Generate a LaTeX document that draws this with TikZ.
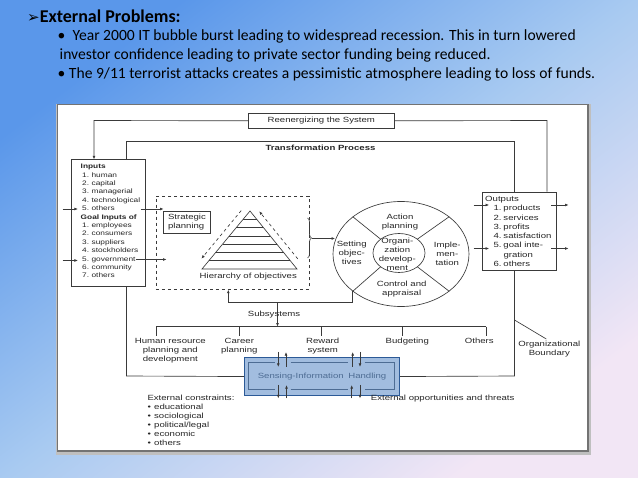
\documentclass[tikz,border=0pt]{standalone}
\usepackage{fontspec}
\setmainfont{Carlito}
\newfontfamily\figfont[FakeStretch=1.28]{Liberation Sans}
\newfontfamily\dingfont{DejaVu Sans}
\usetikzlibrary{arrows.meta,positioning,shapes.geometric,calc,decorations.pathreplacing}
\definecolor{slidetop}{HTML}{5A97EA}
\definecolor{slidemid}{HTML}{A8CAF1}
\definecolor{slidebot}{HTML}{F2E6F5}
\definecolor{senseblue}{HTML}{A2BDDF}
\definecolor{senseedge}{HTML}{2C5A97}
\definecolor{sensetext}{HTML}{4D6C93}
\definecolor{figink}{HTML}{3A3A3A}

\begin{document}
\begin{tikzpicture}[x=1pt,y=-1pt,
    ln/.style={line width=0.65pt,draw=figink},
    arr/.style={ln,-{Latex[length=3.6pt,width=2.8pt]}},
    figbox/.style={ln,rectangle,inner sep=0pt,anchor=north west},
    lbl/.style={font=\figfont\fontsize{7.5}{9}\selectfont,text=black!85,inner sep=0pt,align=center},
    tinylbl/.style={lbl,font=\figfont\fontsize{6.5}{8.4}\selectfont},
    tinybold/.style={lbl,font=\figfont\bfseries\fontsize{6.5}{8.4}\selectfont},
    slidetxt/.style={anchor=base west,inner sep=0pt,font=\fontsize{15.6}{19}\selectfont}]
  \useasboundingbox (0,0) rectangle (638,478);
  % slide background and text
  \shade[top color=slidetop,bottom color=slidebot,middle color=slidemid,shading angle=37] (0,0) rectangle (638,478);
  \node[anchor=base west,inner sep=0pt,font=\fontsize{18}{21}\selectfont\bfseries] (title) at (27,22.3) {{\dingfont\fontsize{15}{15}\selectfont ➢}External Problems:};
  \node[slidetxt] (pointa) at (57.5,40.1) {•\ \ Year 2000 IT bubble burst leading to widespread recession. This in turn lowered};
  \node[slidetxt] (pointb) at (59.5,59.4) {investor confidence leading to private sector funding being reduced.};
  \node[slidetxt] (pointc) at (57.5,78.7) {•\ The 9/11 terrorist attacks creates a pessimistic atmosphere leading to loss of funds.};
  % white panel with shadow
  \fill[black!25] (56,104) rectangle (591,455);
  \fill[black!55] (56.5,104.5) rectangle (589,452.5);
  \fill[white] (57.5,105.5) rectangle (586.5,450);

  % boxes
  \node[figbox,lbl,minimum width=146,minimum height=15] (reen) at (248,113) {Reenergizing the System};
  \node[figbox,minimum width=73.5,minimum height=126.5] (inputs) at (71,159.5) {};
  \node[figbox,minimum width=74.3,minimum height=78.3] (outputs) at (481.7,191.7) {};
  \node[figbox,dashed,minimum width=153,minimum height=93.3] (plan) at (155.5,195.7) {};
  \node[figbox,lbl,align=left,minimum width=46.7,minimum height=22.3] (strat) at (163.3,211) {Strategic\\planning};
  \node[ln,ellipse,minimum width=136,minimum height=105,inner sep=0pt] (wheel) at (401,254) {};
  \node[ln,ellipse,minimum width=52,minimum height=39,inner sep=0pt] (core) at (399,253) {};
  \node[figbox,draw=senseedge,line width=1.1pt,fill=senseblue,minimum width=155,minimum height=38] (sense) at (244,357) {};

  % transformation process frame
  \coordinate (tpnw) at (126.5,141.7);
  \coordinate (tpne) at (514.5,141.7);
  \coordinate (tpsw) at (126.5,376);
  \coordinate (tpse) at (514.5,376);
  \draw[ln] (tpnw |- inputs.north) -- (tpnw) -- (tpne) -- (tpne |- outputs.north);
  \draw[ln] (tpsw |- inputs.south) -- (tpsw) -- (sense.west);
  \draw[ln] (tpse |- outputs.south) -- (tpse) -- (sense.east);
  \node[lbl,font=\figfont\bfseries\fontsize{7.5}{9}\selectfont] (tptitle) at (320.5,147.7) {Transformation Process};

  % reenergizing loop
  \coordinate (loopw) at (94,120.5);
  \coordinate (loope) at (547,120.5);
  \draw[arr] (reen.west) -- (loopw) -- (loopw |- inputs.north);
  \draw[ln] (reen.east) -- (loope) -- (loope |- outputs.north);

  % inputs
  \node[tinybold,anchor=base west] (inhead) at (80.5,168.4) {Inputs};
  \foreach \lab [count=\i] in {human,capital,managerial,technological,others}
    \node[tinylbl,anchor=base west] (in\i) at (82,168.7+8.4*\i) {\makebox[9.4pt][l]{\i.}\lab};
  \node[tinybold,anchor=base west] (goalhead) at (80.5,219.1) {Goal Inputs of};
  \foreach \lab [count=\i] in {employees,consumers,suppliers,stockholders,government,community,others}
    \node[tinylbl,anchor=base west] (goal\i) at (82,219.1+8.4*\i) {\makebox[9.4pt][l]{\i.}\lab};
  \draw[arr] ($(inputs.north west)+(-8.4,49.5)$) -- ++(15.4,0);
  \draw[arr] ($(inputs.north west)+(-8.4,101)$) -- ++(15.4,0);
  \draw[arr] ($(inputs.north east)+(-4.5,49.5)$) -- ++(23,0);
  \draw[arr] ($(inputs.north east)+(-9.5,100)$) -- ++(31,0);

  % outputs
  \node[lbl,anchor=base west] (outhead) at (485,201.5) {Outputs};
  \foreach \nr/\lab [count=\k from 0] in {1./products,2./services,3./profits,4./satisfaction,5./goal inte-,/gration,6./others}
    \node[lbl,anchor=base west] (out\k) at (493.3,210.8+9.3*\k) {\makebox[10pt][l]{\nr}\lab};
  \foreach \dy in {13.3,56.8}{
    \draw[arr] ($(outputs.north west)+(-8,\dy)$) -- ++(15.5,0);
    \draw[arr] ($(outputs.north east)+(-5.5,\dy)$) -- ++(17.5,0);
  }

  % hierarchy of objectives
  \coordinate (apex) at (250,211);
  \coordinate (pyl) at (202,269);
  \coordinate (pyr) at (297,269);
  \draw[ln] (apex) -- (pyl) -- (pyr) -- cycle;
  \foreach \k in {1,...,6}
    \draw[ln] ($(apex)!{\k/7}!(pyl)$) -- ($(apex)!{\k/7}!(pyr)$);
  \draw[arr,dashed] ($(apex)!0.07!(pyl)+(-5.4,-4.5)$) -- ($(apex)!0.9!(pyl)+(-5.4,-4.5)$);
  \draw[arr,dashed] ($(apex)!0.9!(pyr)+(5.4,-4.4)$) -- ($(apex)!0.08!(pyr)+(5.4,-4.4)$);
  \node[lbl] (hier) at (248.3,276.7) {Hierarchy of objectives};
  \draw[ln,decorate,decoration={brace,amplitude=4pt}] (307.5,218) -- (307.5,258);
  \coordinate (bracetip) at (312,238.5);
  \draw[arr] (bracetip) -- ($(bracetip -| wheel.west)+(2.5,0)$);

  % management wheel
  \foreach \c in {north west,north east,south west,south east}
    \draw[ln] (core.\c) -- (wheel.\c);
  \node[lbl] (action) at (400,221.7) {Action\\planning};
  \node[lbl] (setobj) at (351.7,252.5) {Setting\\objec-\\tives};
  \node[lbl] (orgdev) at (397.3,254.7) {Organi-\\zation\\develop-\\ment};
  \node[lbl] (implem) at (447.3,254) {Imple-\\men-\\tation};
  \node[lbl] (control) at (401.7,288.7) {Control and\\appraisal};
  \coordinate (planfb) at (228.3,302.3);
  \draw[arr] (wheel.south west) |- (planfb) -- (planfb |- plan.south);

  % subsystems
  \coordinate (subtop) at (277.5,302.3);
  \coordinate (busw) at (156,326.7);
  \coordinate (buse) at (486,326.7);
  \draw[arr] (subtop) -- (subtop |- busw);
  \node[lbl] (subsys) at (274,314.5) {Subsystems};
  \draw[ln] (busw) -- (buse);
  \foreach \dx in {0,83.3,165,246.7,330}
    \draw[ln] ($(busw)+(\dx,0)$) -- ++(0,9.3);
  \node[lbl,anchor=north] (hrplan) at (170.3,338) {Human resource\\planning and\\development};
  \node[lbl,anchor=north] (career) at (239.3,338) {Career\\planning};
  \node[lbl,anchor=north] (reward) at (322.7,338) {Reward\\system};
  \node[lbl,anchor=north] (budget) at (407.3,338) {Budgeting};
  \node[lbl,anchor=north] (others) at (479.3,338) {Others};

  % sensing-information handling
  \node[lbl,text=sensetext] (sensetxt) at (sense.center) {Sensing-Information\hspace{2pt} Handling};
  \draw[draw=sensetext,line width=0.4pt] (274.5,362.5) -| (248.5,389.5) -- (274.5,389.5);
  \draw[draw=sensetext,line width=0.4pt] (290.5,362.5) -- (348,362.5) (290.5,389.5) -- (348,389.5);
  \draw[draw=sensetext,line width=0.4pt] (364.5,362.5) -| (394.5,389.5) -- (364.5,389.5);
  \foreach \dx/\ya/\yb in {34.3/-5/10,42/10/-5,108.7/10/-5,116/-5/10,34.3/28/41.5,42.5/41.5/28,107.7/41.5/28,116/28/41.5}
    \draw[arr] ($(sense.north west)+(\dx,\ya)$) -- ($(sense.north west)+(\dx,\yb)$);

  % boundary and environment
  \coordinate (obfoot) at (514.5,320);
  \node[lbl,anchor=north] (orgbound) at (549.3,341) {Organizational\\Boundary};
  \draw[ln] (obfoot) -- ($(orgbound.north)+(-3,-2)$);
  \node[lbl,anchor=base west] (extcon) at (147.3,400.5) {External constraints:};
  \foreach \lab [count=\i] in {educational,sociological,{political/legal},economic,others}
    \node[lbl,anchor=base west] (con\i) at (147.3,400.5+9*\i) {\makebox[6.7pt][l]{\textbullet}\lab};
  \node[lbl,anchor=base west] (extopp) at (370.7,400.5) {External opportunities and threats};
\end{tikzpicture}
\end{document}
